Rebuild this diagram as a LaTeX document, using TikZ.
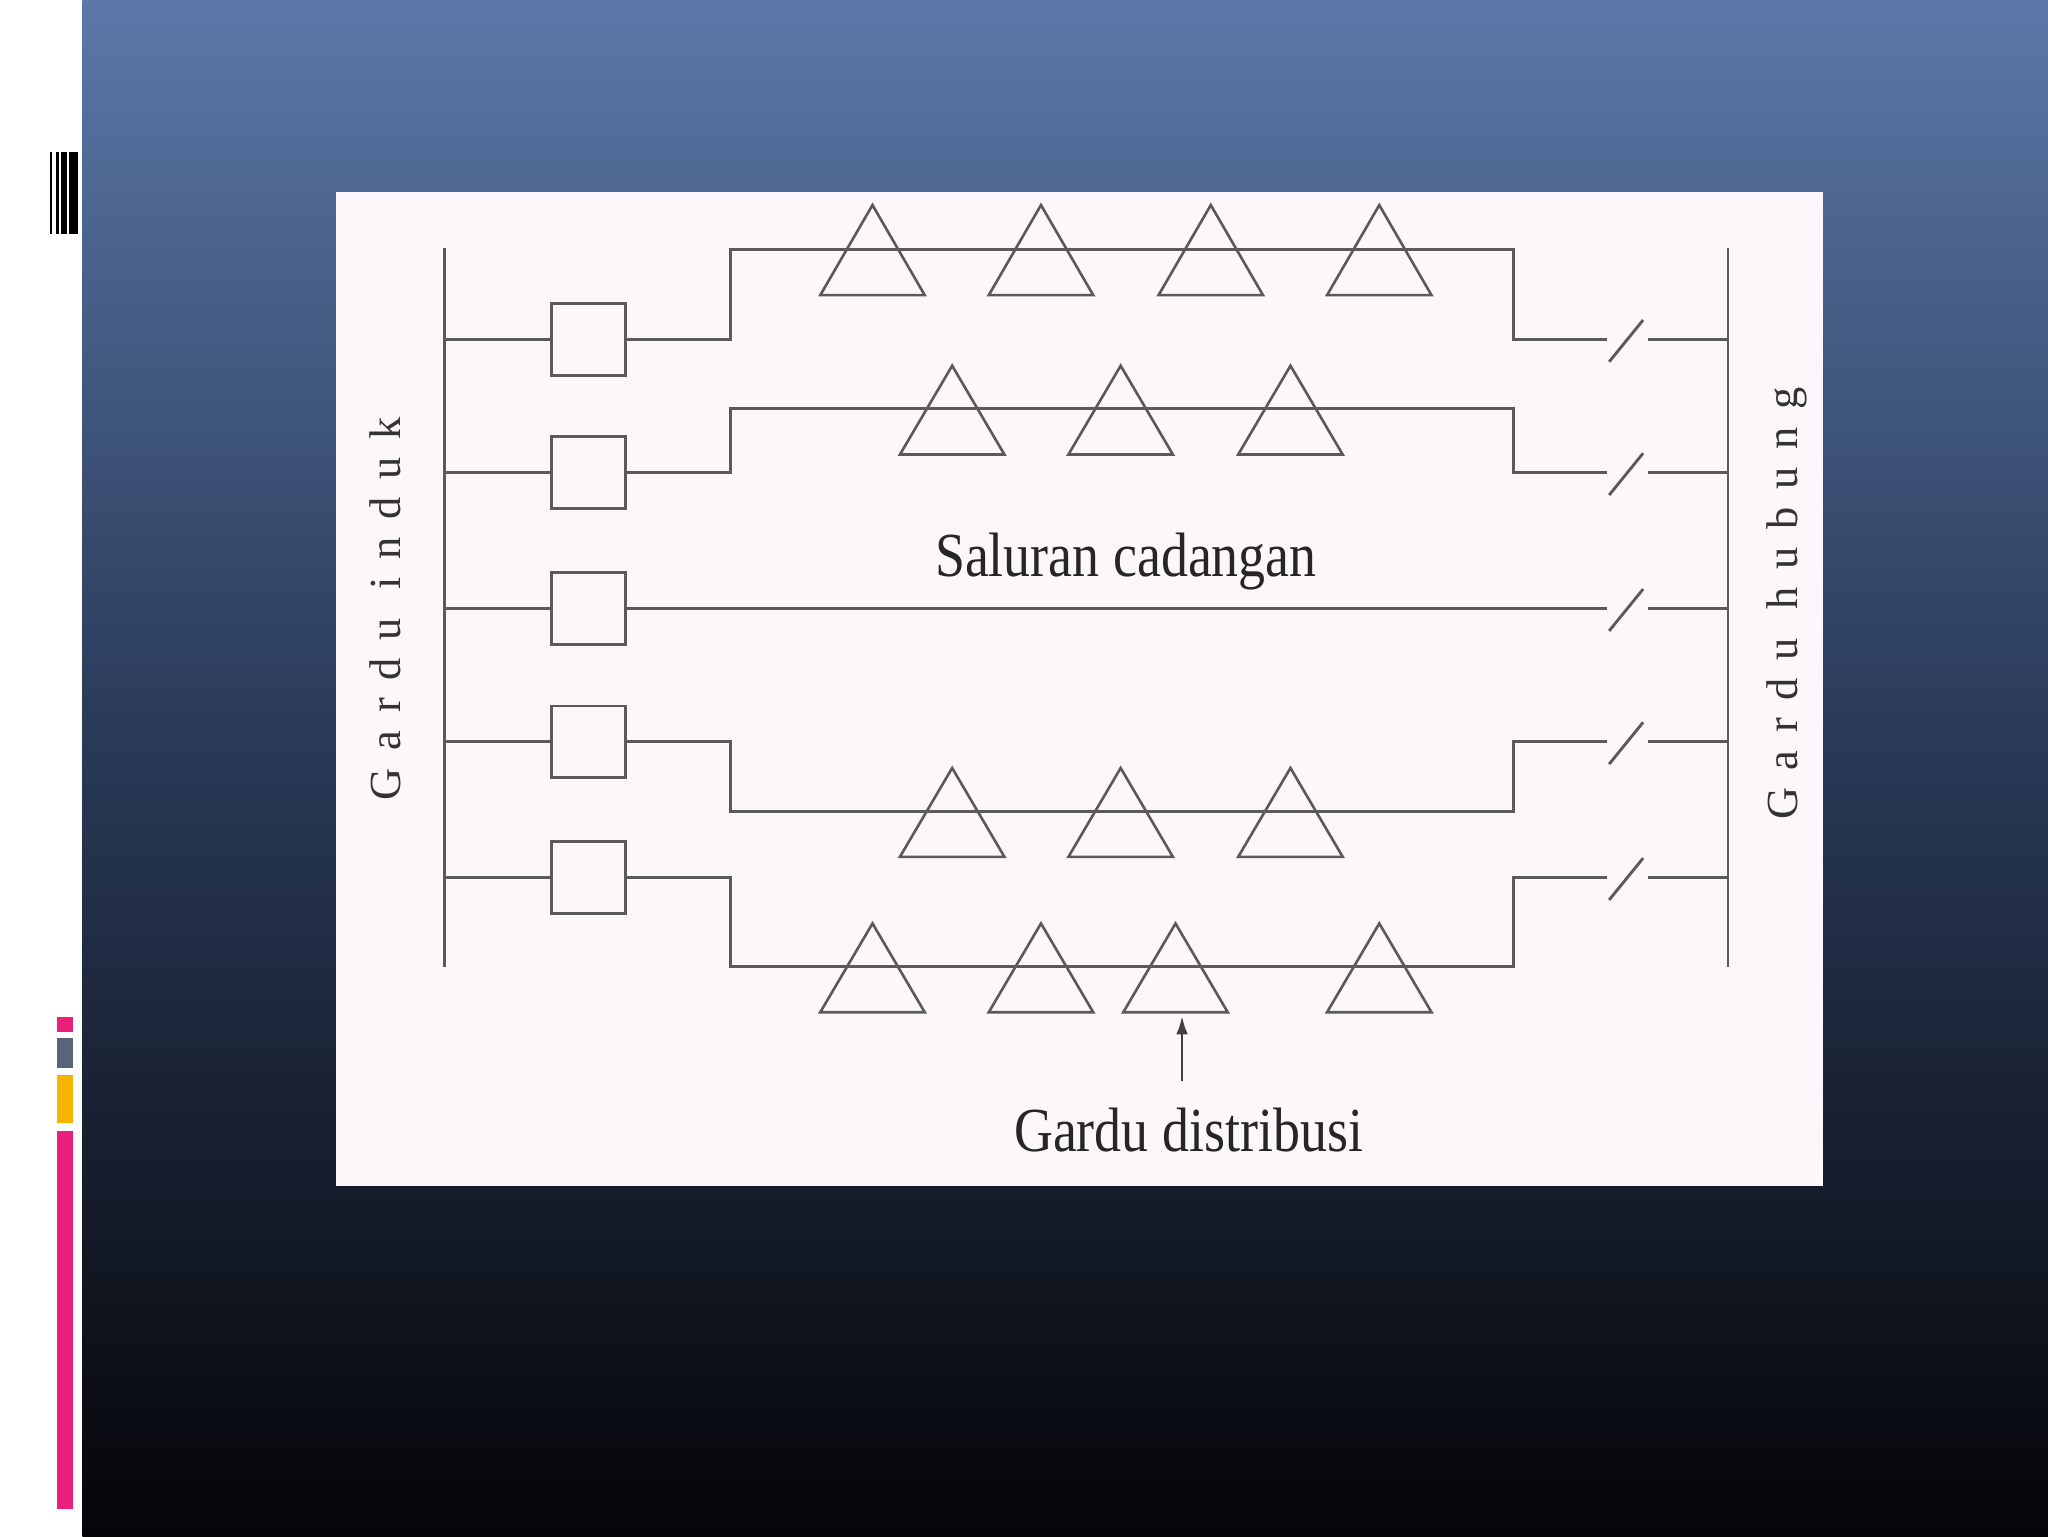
\documentclass[tikz,border=0pt]{standalone}
\usepackage{fontspec}
\setmainfont{Liberation Serif}
\usetikzlibrary{arrows.meta}
\definecolor{bgtop}{HTML}{5B78A8}
\definecolor{bgmid}{HTML}{2A3A58}
\definecolor{bgbot}{HTML}{050508}
\definecolor{ln}{HTML}{5A5A5A}
\definecolor{pinkbar}{HTML}{E8207A}
\definecolor{graybar}{HTML}{5A6478}
\definecolor{yelbar}{HTML}{F5B400}
\tikzset{
  wire/.style={draw=ln,line width=2.2pt},
  brk/.style={draw=ln,line width=2.2pt,minimum width=57pt,minimum height=55pt,inner sep=0pt},
  tri/.style={draw=ln,line width=2pt},
  lbl/.style={inner sep=0pt,text=black!85,font=\fontsize{48}{48}\selectfont},
  vlbl/.style={inner sep=0pt,rotate=90,text=black!80,font=\fontsize{34}{34}\selectfont\addfontfeature{LetterSpace=40}}
}
\newcommand{\trian}[3]{\draw[tri] (#1-40,#3) -- (#1,#2) -- (#1+40,#3) -- cycle;}
\begin{document}
\begin{tikzpicture}[x=1pt,y=-1pt]
\useasboundingbox (0,0) rectangle (1568,1176);
\fill[white] (0,0) rectangle (63,1176);
\shade[top color=bgtop,bottom color=bgmid] (63,0) rectangle (1568,560);
\shade[top color=bgmid,bottom color=bgbot] (63,560) rectangle (1568,1176);
% left bars
\fill[black] (38,116) rectangle (39.5,179);
\fill[black] (43,116) rectangle (45,179);
\fill[black] (46.5,116) rectangle (51.5,179);
\fill[black] (53,116) rectangle (60,179);
\fill[pinkbar] (44,779) rectangle (56,790);
\fill[graybar] (44,795) rectangle (56,818);
\fill[yelbar] (44,823) rectangle (56,860);
\fill[pinkbar] (44,866) rectangle (56,1155);
% panel
\fill[white!97!violet] (257,147) rectangle (1396,908);
% buses
\draw[wire] (340,190) -- (340,740);
\draw[wire] (1323,190) -- (1323,740);
% breakers
\foreach \i/\y in {1/260,2/362,3/466,4/568,5/672}{
  \node[brk] (b\i) at (450.5,\y) {};
  \coordinate (L\i) at (340,\y);
  \coordinate (R\i) at (1323,\y);
  \draw[wire] (L\i) -- (b\i.west);
  \draw[wire] (1262,\y) -- (R\i);
  \draw[wire] (1232,\y+17) -- (1258,\y-15);
}
% row 1
\draw[wire] (b1.east) -- (559,260) -- (559,191) -- (1159,191) -- (1159,260) -- (1230,260);
\foreach \c in {668,797,927,1056}{\trian{\c}{157}{226}}
% row 2
\draw[wire] (b2.east) -- (559,362) -- (559,313) -- (1159,313) -- (1159,362) -- (1230,362);
\foreach \c in {729,858,988}{\trian{\c}{280}{348}}
% row 3
\draw[wire] (b3.east) -- (1230,466);
% row 4
\draw[wire] (b4.east) -- (559,568) -- (559,621) -- (1159,621) -- (1159,568) -- (1230,568);
\foreach \c in {729,858,988}{\trian{\c}{588}{656}}
% row 5
\draw[wire] (b5.east) -- (559,672) -- (559,740) -- (1159,740) -- (1159,672) -- (1230,672);
\foreach \c in {668,797,900,1056}{\trian{\c}{707}{775}}
% labels
\node[lbl] (sal) at (862,430) {\scalebox{0.86}[1]{Saluran cadangan}};
\node[lbl] (gd) at (910,865) {\scalebox{0.86}[1]{Gardu distribusi}};
\coordinate (tp) at (905,778);
\draw[black!75,line width=1.8pt,-{Latex[length=14pt,width=9pt]}] (905,828) -- (tp);
\node[vlbl] (gi) at (295,466) {Gardu induk};
\node[vlbl] (gh) at (1368,462) {Gardu hubung};
\end{tikzpicture}
\end{document}
